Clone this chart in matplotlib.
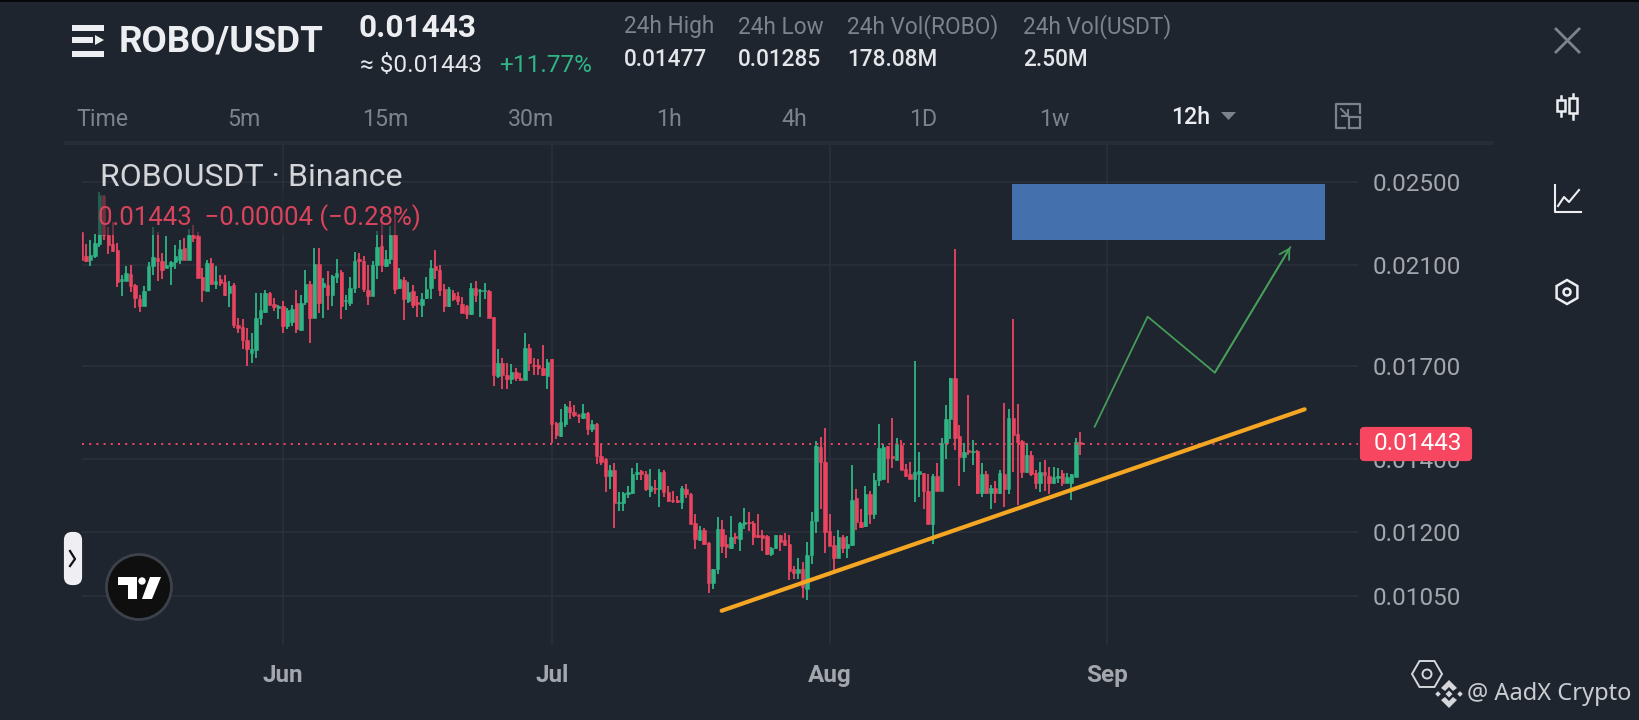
import pandas as pd
import numpy as np
import matplotlib
matplotlib.use("Agg")
import matplotlib.pyplot as plt
import matplotlib.dates as mdates
from matplotlib.patches import Rectangle, Polygon, Circle, FancyBboxPatch, RegularPolygon
from matplotlib.ticker import NullLocator

plt.rcParams["font.family"] = ["Roboto", "DejaVu Sans"]

# 12h candles, price in 1e-5 USDT
opens = [2250, 2140, 2125, 2143, 2197, 2429, 2239, 2197, 2170, 2031, 2031, 2063, 2017, 1958, 1930, 1993,
         2099, 2132, 2118, 2088, 2096, 2113, 2125, 2177, 2125, 2239, 2234, 2050, 1989, 2110, 2021, 2041,
         2026, 1983, 2017, 1852, 1845, 1795, 1749, 1758, 1882, 1903, 1983, 1938, 1921, 1927, 1849, 1863,
         1941, 1832, 1944, 2021, 1881, 2107, 2007, 2017, 1975, 2050, 2070, 1947, 1941, 2003, 2128, 2121,
         1996, 1968, 2103, 2188, 2096, 2128, 2239, 2003, 2038, 1948, 1989, 1944, 1934, 1962, 2003, 2096,
         2081, 1999, 1930, 1982, 1968, 1938, 1927, 1898, 2003, 1989, 1989, 1989, 1885, 1665, 1711, 1668,
         1654, 1680, 1660, 1651, 1767, 1703, 1703, 1695, 1665, 1725, 1509, 1468, 1506, 1559, 1545, 1535,
         1524, 1541, 1491, 1506, 1408, 1398, 1350, 1367, 1275, 1275, 1300, 1302, 1355, 1364, 1355, 1309,
         1318, 1314, 1363, 1307, 1284, 1284, 1278, 1314, 1300, 1223, 1182, 1206, 1174, 1078, 1110, 1209,
         1170, 1160, 1190, 1184, 1222, 1226, 1223, 1194, 1193, 1190, 1147, 1160, 1194, 1182, 1170, 1110,
         1103, 1110, 1065, 1144, 1229, 1435, 1391, 1203, 1168, 1138, 1188, 1160, 1168, 1289, 1227, 1217,
         1300, 1246, 1338, 1341, 1438, 1408, 1395, 1442, 1370, 1355, 1343, 1357, 1360, 1309, 1222, 1350,
         1309, 1448, 1522, 1657, 1468, 1404, 1426, 1420, 1422, 1302, 1355, 1302, 1316, 1302, 1357, 1314,
         1524, 1475, 1452, 1362, 1410, 1360, 1331, 1362, 1350, 1332, 1345, 1360, 1331, 1331, 1348, 1450]
highs = [2265, 2197, 2215, 2244, 2451, 2434, 2278, 2302, 2200, 2059, 2099, 2103, 2021, 1975, 2010, 2113,
         2275, 2250, 2156, 2231, 2118, 2192, 2215, 2223, 2265, 2286, 2254, 2088, 2122, 2132, 2096, 2059,
         2059, 2031, 2025, 1882, 1875, 1842, 1823, 1982, 1982, 1993, 1985, 1962, 1934, 1947, 1921, 1934,
         1993, 1975, 2081, 2034, 2177, 2177, 2046, 2074, 2059, 2128, 2078, 1975, 2050, 2159, 2155, 2140,
         2103, 2118, 2259, 2291, 2170, 2282, 2379, 2088, 2050, 2027, 2017, 1968, 1983, 2050, 2125, 2170,
         2103, 2021, 2007, 1996, 1985, 1964, 1934, 2024, 2031, 1999, 2024, 1993, 1885, 1761, 1731, 1711,
         1707, 1695, 1677, 1821, 1779, 1731, 1725, 1776, 1725, 1727, 1513, 1554, 1570, 1579, 1567, 1538,
         1570, 1543, 1517, 1509, 1445, 1402, 1383, 1389, 1305, 1305, 1323, 1374, 1389, 1367, 1364, 1370,
         1338, 1370, 1367, 1321, 1309, 1296, 1321, 1327, 1302, 1246, 1217, 1212, 1176, 1110, 1238, 1232,
         1194, 1241, 1198, 1227, 1264, 1253, 1229, 1246, 1206, 1193, 1163, 1194, 1194, 1198, 1194, 1119,
         1136, 1128, 1176, 1252, 1452, 1465, 1493, 1246, 1190, 1206, 1193, 1190, 1381, 1313, 1259, 1321,
         1309, 1360, 1505, 1445, 1438, 1524, 1463, 1455, 1386, 1391, 1719, 1420, 1360, 1357, 1355, 1389,
         1463, 1567, 1660, 2173, 1503, 1448, 1600, 1455, 1425, 1389, 1365, 1325, 1335, 1367, 1575, 1554,
         1878, 1570, 1455, 1448, 1422, 1367, 1391, 1395, 1377, 1377, 1374, 1367, 1360, 1357, 1463, 1482]
lows = [2118, 2113, 2096, 2132, 2182, 2215, 2152, 2158, 2007, 1971, 2031, 1985, 1921, 1903, 1930, 1989,
        2059, 2031, 2041, 2088, 2017, 2084, 2107, 2125, 2125, 2207, 2046, 1943, 1989, 2017, 2000, 2013,
        1971, 1926, 1842, 1823, 1761, 1699, 1713, 1731, 1855, 1901, 1933, 1907, 1878, 1823, 1839, 1851,
        1823, 1830, 1934, 1783, 1881, 1901, 1882, 1914, 1927, 2024, 1878, 1914, 1930, 1982, 2003, 1985,
        1934, 1968, 2041, 2070, 2093, 2107, 1979, 1999, 1872, 1941, 1921, 1885, 1885, 1958, 1958, 2041,
        1968, 1903, 1926, 1948, 1934, 1901, 1878, 1894, 1944, 1885, 1955, 1881, 1631, 1660, 1620, 1620,
        1637, 1648, 1648, 1651, 1683, 1668, 1668, 1665, 1620, 1448, 1458, 1465, 1496, 1522, 1527, 1509,
        1522, 1470, 1480, 1386, 1381, 1305, 1314, 1211, 1255, 1255, 1289, 1300, 1338, 1338, 1309, 1291,
        1300, 1266, 1293, 1279, 1275, 1275, 1260, 1289, 1221, 1158, 1179, 1168, 1056, 1065, 1099, 1149,
        1138, 1158, 1170, 1155, 1209, 1204, 1168, 1186, 1153, 1145, 1142, 1158, 1153, 1166, 1085, 1088,
        1088, 1046, 1042, 1122, 1198, 1260, 1149, 1166, 1106, 1138, 1149, 1136, 1166, 1206, 1212, 1213,
        1220, 1234, 1321, 1338, 1332, 1374, 1395, 1367, 1348, 1341, 1279, 1293, 1259, 1221, 1170, 1309,
        1309, 1400, 1460, 1425, 1321, 1362, 1412, 1381, 1300, 1293, 1300, 1260, 1275, 1299, 1266, 1300,
        1362, 1270, 1345, 1360, 1350, 1313, 1305, 1309, 1300, 1327, 1332, 1323, 1330, 1284, 1348, 1412]
closes = [2125, 2118, 2147, 2200, 2434, 2239, 2192, 2163, 2026, 2041, 2066, 2013, 1961, 1930, 1992, 2099,
          2137, 2118, 2078, 2103, 2113, 2140, 2173, 2125, 2239, 2223, 2046, 1993, 2110, 2021, 2031, 2025,
          1975, 2013, 1852, 1842, 1795, 1761, 1761, 1882, 1911, 1982, 1934, 1924, 1927, 1849, 1914, 1917,
          1836, 1941, 2021, 1881, 2107, 1941, 2024, 1975, 2055, 2066, 1930, 1951, 2003, 2121, 2118, 1999,
          1968, 2103, 2182, 2102, 2128, 2239, 1999, 2041, 1955, 1985, 1934, 1938, 1958, 1999, 2088, 2081,
          1996, 1930, 1999, 1955, 1948, 1901, 1898, 2003, 1975, 1996, 1996, 1881, 1668, 1711, 1668, 1654,
          1680, 1660, 1651, 1767, 1713, 1699, 1695, 1668, 1715, 1506, 1470, 1511, 1565, 1545, 1535, 1531,
          1541, 1491, 1506, 1408, 1392, 1350, 1367, 1275, 1279, 1302, 1307, 1355, 1362, 1355, 1313, 1321,
          1314, 1363, 1307, 1281, 1281, 1279, 1316, 1300, 1222, 1184, 1206, 1171, 1078, 1110, 1209, 1166,
          1163, 1188, 1186, 1223, 1226, 1223, 1188, 1188, 1186, 1147, 1161, 1193, 1176, 1168, 1107, 1103,
          1110, 1069, 1144, 1229, 1438, 1391, 1201, 1166, 1138, 1188, 1160, 1171, 1284, 1226, 1213, 1299,
          1246, 1338, 1432, 1435, 1402, 1402, 1445, 1367, 1350, 1343, 1362, 1365, 1309, 1222, 1350, 1309,
          1448, 1522, 1657, 1463, 1404, 1420, 1420, 1424, 1302, 1357, 1302, 1316, 1302, 1360, 1313, 1524,
          1472, 1450, 1362, 1410, 1357, 1331, 1362, 1352, 1332, 1348, 1350, 1331, 1348, 1355, 1450, 1443]

y_ticks = [0.0105, 0.012, 0.014, 0.017, 0.021, 0.025]
y_tick_labels = ["0.01050", "0.01200", "0.01400", "0.01700", "0.02100", "0.02500"]
last_price = 0.01443

# hand drawn marks on the chart, as date / price
trend_dates = ["2025-07-19 23:00", "2025-09-23 00:30"]
trend_prices = [0.01018, 0.01553]
path_dates = ["2025-08-30 14:00", "2025-09-05 12:00", "2025-09-13 00:00", "2025-09-21 10:00"]
path_prices = [0.01497, 0.01886, 0.01677, 0.02181]
zone_dates = ["2025-08-21 10:00", "2025-09-25 07:00"]
zone_prices = [0.02213, 0.02491]

bg = "#1f252f"
grid_col = "#2a313b"
green = "#2fb585"
red = "#ea4560"
gray = "#7d838c"

dates = pd.date_range("2025-05-09 12:00", periods=len(closes), freq="12h")
o = np.array(opens) * 1e-5
h = np.array(highs) * 1e-5
l = np.array(lows) * 1e-5
c = np.array(closes) * 1e-5
colors = [green if up else red for up in c > o]

fig = plt.figure(figsize=(16.4, 7.2), dpi=100, facecolor=bg)
ax = fig.add_axes([82 / 1640, 1 - 645 / 720, (1358 - 82) / 1640, (645 - 143) / 720], facecolor=bg)

ax.set_yscale("log")
ax.set_yticks(y_ticks)
ax.set_yticklabels(y_tick_labels)
ax.yaxis.set_minor_locator(NullLocator())
ax.yaxis.tick_right()
jun1 = mdates.date2num(pd.Timestamp("2025-06-01"))
ax.set_xlim(jun1 - 22.43, jun1 + 119.98)
ax.set_ylim(0.009475, 0.02714)
ax.xaxis_date()
ax.xaxis.set_major_locator(mdates.MonthLocator())
ax.xaxis.set_major_formatter(mdates.DateFormatter("%b"))
ax.grid(True, color=grid_col, linewidth=1.2)
ax.set_axisbelow(True)
for s in ax.spines.values():
    s.set_visible(False)
ax.tick_params(axis="y", length=0, pad=10.5, labelsize=17.5, labelcolor="#a3a7ad")
ax.tick_params(axis="x", length=0, pad=13.7, labelsize=17.5, labelcolor="#a3a7ad")
for t in ax.get_xticklabels():
    t.set_fontweight("bold")

# candles
ax.vlines(dates, l, h, colors=colors, linewidth=1.3, zorder=3)
ax.bar(dates, np.abs(c - o), bottom=np.minimum(o, c), width=0.38, color=colors,
       edgecolor=colors, linewidth=0.4, zorder=4)

ax.axhline(last_price, color=red, linewidth=1.44, linestyle=(0, (1, 2.6)), zorder=5)

# drawings
zone_x = mdates.date2num(pd.to_datetime(zone_dates))
ax.add_patch(Rectangle((zone_x[0], zone_prices[0]), zone_x[1] - zone_x[0], zone_prices[1] - zone_prices[0],
                       facecolor="#4470ae", edgecolor="none", zorder=6))
ax.plot(pd.to_datetime(trend_dates), trend_prices, color="#f5a623", linewidth=3.0, solid_capstyle="round", zorder=7)
path_x = pd.to_datetime(path_dates)
ax.plot(path_x, path_prices, color="#459f59", linewidth=1.25, zorder=7)
ax.annotate("", xy=(path_x[3], path_prices[3]), xytext=(path_x[2], path_prices[2]),
            arrowprops=dict(arrowstyle="->,head_length=0.7,head_width=0.4", color="#459f59", lw=1.25,
                            shrinkA=0, shrinkB=0), zorder=7)

# everything around the chart, in screen pixels
ui = fig.add_axes([0, 0, 1, 1], facecolor="none")
ui.set_xlim(0, 1640)
ui.set_ylim(720, 0)
ui.axis("off")

ui.add_patch(Rectangle((0, 0), 1640, 1.5, facecolor="#05070a", edgecolor="none"))
ui.add_patch(Rectangle((64, 141), 1430, 4, facecolor="#272d37", edgecolor="none"))

# menu icon
ui.add_patch(Rectangle((72, 25), 32, 6, facecolor="#eceef1"))
ui.add_patch(Rectangle((72, 37), 21, 6, facecolor="#eceef1"))
ui.add_patch(Polygon([(95, 35), (104, 40), (95, 45)], facecolor="#eceef1"))
ui.add_patch(Rectangle((72, 51), 32, 6, facecolor="#eceef1"))

ui.text(119, 41, "ROBO/USDT", color="#eceef1", fontsize=26.5, fontweight="bold", va="center")
ui.text(359, 28, "0.01443", color="#eceef1", fontsize=22.8, fontweight="bold", va="center")
ui.text(360, 66, "≈ $0.01443", color="#e4e6e9", fontsize=17.6, va="center")
ui.text(499, 66, "+11.77%", color=green, fontsize=17.6, va="center")

stat_x = [624, 738, 847, 1023]
stat_names = ["24h High", "24h Low", "24h Vol(ROBO)", "24h Vol(USDT)"]
stat_vals = ["0.01477", "0.01285", "178.08M", "2.50M"]
for x, name, val in zip(stat_x, stat_names, stat_vals):
    ui.text(x, 27, name, color=gray, fontsize=16.3, va="center")
    ui.text(x, 59, val, color="#e4e6e9", fontsize=16.3, fontweight="medium", va="center")

tab_x = [102, 244, 385, 531, 669, 794, 923, 1054]
tab_names = ["Time", "5m", "15m", "30m", "1h", "4h", "1D", "1w"]
for x, name in zip(tab_x, tab_names):
    ui.text(x, 119, name, color=gray, fontsize=16.7, va="center", ha="center")
ui.text(1191, 118, "12h", color="#eceef1", fontsize=16.7, fontweight="medium", va="center", ha="center")
ui.add_patch(Polygon([(1221, 112), (1236, 112), (1228.5, 120)], facecolor=gray))

# picture in picture icon
ui.plot([1349, 1336, 1336, 1345], [104, 104, 128, 128], color=gray, lw=1.6)
ui.plot([1349, 1360, 1360], [104, 104, 113], color=gray, lw=1.6)
ui.add_patch(Rectangle((1349, 117), 11, 11, facecolor="none", edgecolor=gray, lw=1.6))
ui.plot([1341, 1348], [109, 116], color=gray, lw=1.4)
ui.plot([1348, 1348, 1342], [110, 116, 116], color=gray, lw=1.4)

# right side icons
ui.plot([1556, 1579], [29, 52], color=gray, lw=2)
ui.plot([1579, 1556], [29, 52], color=gray, lw=2)
for x, y0, y1, b0, b1 in [(1561, 96, 116, 100, 111), (1573, 94, 119, 98, 113)]:
    ui.plot([x, x], [y0, y1], color="#eceef1", lw=1.8)
    ui.add_patch(Rectangle((x - 4, b0), 8, b1 - b0, facecolor=bg, edgecolor="#eceef1", lw=1.8, zorder=3))
ui.plot([1555, 1555, 1581], [185, 212, 212], color="#eceef1", lw=1.5)
ui.plot([1558, 1564, 1569, 1579], [206, 197, 202, 190], color="#eceef1", lw=1.5)
ui.add_patch(RegularPolygon((1567, 292), 6, radius=12, facecolor="none", edgecolor="#eceef1", lw=1.8))
ui.add_patch(Circle((1567, 292), 3.5, facecolor="none", edgecolor="#eceef1", lw=1.8))

# chart legend
ui.add_patch(Rectangle((98, 190), 325, 45, facecolor=bg, alpha=0.6, edgecolor="none"))
ui.text(100, 177, "ROBOUSDT · Binance", color="#d3d5d9", fontsize=23, va="center")
ui.text(98, 217.5, "0.01443  −0.00004 (−0.28%)", color="#d9445c", fontsize=18.5, va="center")

# last price tag
ui.add_patch(FancyBboxPatch((1362, 429), 108, 30, boxstyle="round,pad=0,rounding_size=2", facecolor="#f7465f",
                            edgecolor="#f7465f", lw=3))
ui.text(1374, 444, "0.01443", color="#ffffff", fontsize=17.5, va="center")

# collapse button and tradingview badge
ui.add_patch(FancyBboxPatch((66, 534), 14, 49, boxstyle="round,pad=0,rounding_size=6", facecolor="#efeef2",
                            edgecolor="#efeef2", lw=3))
ui.plot([70, 75, 70], [551, 559, 566], color="#111111", lw=1.6)
ui.add_patch(Circle((139, 587), 32.5, facecolor="#0f0f10", edgecolor="#3d424a", lw=2))
ui.add_patch(Polygon([(118, 577), (137, 577), (137, 599), (128, 599), (128, 585), (118, 585)], facecolor="white"))
ui.add_patch(Circle((142, 581), 3.7, facecolor="white"))
ui.add_patch(Polygon([(150, 577), (161, 577), (152, 599), (142, 599)], facecolor="white"))

# watermark
ui.add_patch(RegularPolygon((1427, 674), 6, radius=15, orientation=np.pi / 2, facecolor="none",
                            edgecolor="#d5d7da", lw=1.4))
ui.add_patch(Circle((1427, 674), 4.5, facecolor="none", edgecolor="#d5d7da", lw=1.4))
ui.add_patch(Polygon([(1449, 680), (1457, 688), (1453, 691), (1449, 687), (1445, 691), (1441, 688)], facecolor="#d5d7da"))
ui.add_patch(Polygon([(1449, 708), (1457, 700), (1453, 697), (1449, 701), (1445, 697), (1441, 700)], facecolor="#d5d7da"))
for x, y, r in [(1449, 694, 3.5), (1438, 694, 2.8), (1460, 694, 2.8)]:
    ui.add_patch(Polygon([(x, y - r), (x + r, y), (x, y + r), (x - r, y)], facecolor="#d5d7da"))
ui.text(1467, 694, "@ AadX Crypto", color="#c9ccd0", fontsize=17, family=["Noto Sans", "DejaVu Sans"], va="center")

fig.savefig("out.png", dpi=100, facecolor=bg)
